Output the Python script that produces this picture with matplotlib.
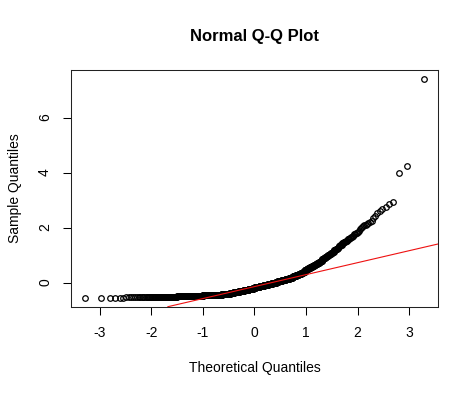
import matplotlib
matplotlib.use("Agg")
import matplotlib.pyplot as plt
import numpy as np
from statistics import NormalDist

# sorted sample: each value and how many points sit on it
sample_values = [-0.56, -0.55, -0.54, -0.53, -0.52, -0.51, -0.50, -0.49, -0.48,
                 -0.47, -0.46, -0.45, -0.44, -0.43, -0.42, -0.41, -0.40, -0.39, -0.38,
                 -0.36, -0.34, -0.32, -0.30, -0.28, -0.26, -0.24, -0.22, -0.20,
                 -0.18, -0.16, -0.14, -0.12, -0.10, -0.08, -0.06,
                 -0.04, -0.02, 0.00, 0.02, 0.04, 0.06, 0.08, 0.10, 0.12, 0.14,
                 0.16, 0.18, 0.20, 0.22, 0.24, 0.26, 0.28, 0.30, 0.32,
                 0.36, 0.40, 0.44, 0.48, 0.52, 0.56, 0.60, 0.64, 0.68,
                 0.72, 0.76, 0.80, 0.84, 0.88, 0.92, 0.96, 1.00, 1.04, 1.08, 1.12,
                 1.17, 1.22, 1.27, 1.32, 1.37, 1.42,
                 1.47, 1.52, 1.57, 1.61,
                 1.66, 1.70, 1.75, 1.79,
                 1.84, 1.89, 1.94, 1.99, 2.02, 2.05,
                 2.08, 2.11, 2.14, 2.17, 2.20,
                 2.25, 2.34, 2.42, 2.52, 2.60, 2.68, 2.76, 2.86, 2.94, 3.98, 4.24, 7.41]
sample_counts = [1, 5, 8, 9, 22, 22, 30, 31, 31,
                 30, 30, 31, 14, 14, 13, 14, 13, 14, 13,
                 19, 19, 18, 18, 18, 18, 17, 17, 17,
                 17, 17, 16, 16, 16, 16, 14,
                 15, 15, 14, 14, 13, 13, 13, 12, 12, 11,
                 9, 8, 8, 8, 7, 7, 7, 6, 6,
                 10, 9, 9, 8, 8, 8, 7, 7, 7,
                 6, 5, 5, 5, 5, 4, 4, 4, 4, 4, 3,
                 4, 4, 3, 3, 3, 3,
                 3, 3, 3, 2,
                 2, 2, 2, 2,
                 1, 1, 1, 1, 1, 1,
                 1, 1, 1, 1, 1,
                 1, 1, 1, 1, 1, 1, 1, 1, 1, 1, 1, 1]

x_ticks = [-3, -2, -1, 0, 1, 2, 3]
y_ticks = [0, 2, 4, 6]

plt.rcParams['font.family'] = ['Liberation Sans', 'DejaVu Sans']
plt.rcParams['axes.unicode_minus'] = False

sample = np.sort(np.repeat(sample_values, sample_counts))
n = len(sample)
a = 3 / 8 if n <= 10 else 0.5
nd = NormalDist()
theo = np.array([nd.inv_cdf((i - a) / (n + 1 - 2 * a)) for i in range(1, n + 1)])

# qqline through the quartiles
q1, q3 = np.percentile(sample, [25, 75])
z1, z3 = nd.inv_cdf(0.25), nd.inv_cdf(0.75)
slope = (q3 - q1) / (z3 - z1)
intercept = q1 - slope * z1

fig = plt.figure(figsize=(4.74, 3.95), dpi=100)
ax = fig.add_axes([71 / 474, 1 - 306.7 / 395, (437.7 - 71) / 474, (306.7 - 70) / 395])

ax.plot(theo, sample, linestyle='none', marker='o', markersize=4.0,
        markerfacecolor='none', markeredgecolor='black', markeredgewidth=0.9)
ax.axline((0, intercept), slope=slope, color='#ee1111', linewidth=0.8)

xr = theo.max() - theo.min()
yr = sample.max() - sample.min()
ax.set_xlim(theo.min() - 0.04 * xr, theo.max() + 0.04 * xr)
ax.set_ylim(sample.min() - 0.04 * yr, sample.max() + 0.04 * yr)

ax.set_xticks(x_ticks)
ax.set_yticks(y_ticks)
ax.tick_params(length=5.6, width=0.75, labelsize=10, colors='black')
ax.tick_params(axis='x', pad=8)
ax.tick_params(axis='y', pad=8, labelrotation=90)
for t in ax.get_yticklabels():
    t.set_va('center')
for s in ax.spines.values():
    s.set_linewidth(0.75)
    s.set_color('#222222')

fig.text(254.4 / 474, 1 - 36.7 / 395, 'Normal Q-Q Plot', ha='center', va='center',
         fontsize=12, fontweight='bold')
fig.text(254.4 / 474, 1 - 368.3 / 395, 'Theoretical Quantiles', ha='center', va='center',
         fontsize=10)
fig.text(15 / 474, 1 - 188.3 / 395, 'Sample Quantiles', ha='center', va='center',
         fontsize=10, rotation=90)

fig.savefig('out.png', dpi=100)
